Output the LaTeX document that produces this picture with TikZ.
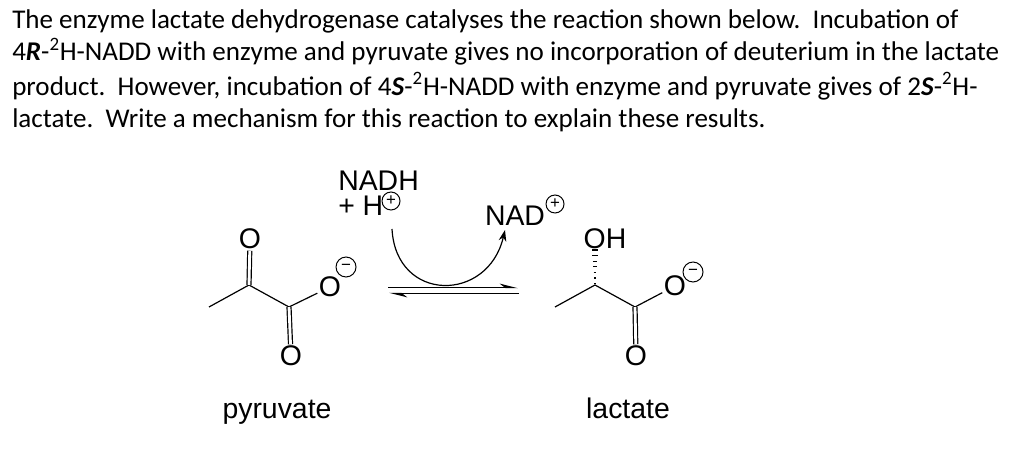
\documentclass[tikz,border=0pt]{standalone}
\usepackage{fontspec}
\usepackage{tikz}
\usetikzlibrary{arrows.meta,calc}
\setmainfont{Carlito}
\newfontfamily\chemfont{Liberation Sans}

\tikzset{
  textline/.style={anchor=base west,inner sep=0pt,font=\fontsize{19.24pt}{21pt}\selectfont},
  atom/.style={inner sep=1pt,font=\chemfont\fontsize{20.2pt}{21pt}\selectfont},
  charge/.style={circle,draw,inner sep=0pt,line width=.7pt,font=\chemfont\fontsize{12pt}{12pt}\selectfont},
  bond/.style={line width=.85pt},
  dblbond/.style={line width=.85pt,double,double distance=2pt},
}

\begin{document}
\begin{tikzpicture}[x=0.025cm,y=-0.025cm]
    \useasboundingbox (0,0) rectangle (1024,452);

    % question text
    \node[textline] (lineA) at (12,28.5) {The enzyme lactate dehydrogenase catalyses the reaction shown below.\ \ Incubation of};
    \node[textline] (lineB) at (12,61) {4\textbf{\textit{R}}-\textsuperscript{2}H-NADD with enzyme and pyruvate gives no incorporation of deuterium in the lactate};
    \node[textline] (lineC) at (12,95.5) {product.\ \ However, incubation of 4\textbf{\textit{S}}-\textsuperscript{2}H-NADD with enzyme and pyruvate gives of 2\textbf{\textit{S}}-\textsuperscript{2}H-};
    \node[textline] (lineD) at (12,127.5) {lactate.\ \ Write a mechanism for this reaction to explain these results.};

    % pyruvate
    \coordinate (pyrMe) at (209,307);
    \coordinate (pyrCa) at (249,285);
    \coordinate (pyrCb) at (289,307);
    \node[atom] (pyrOa) at (250,239) {O};
    \node[atom] (pyrOb) at (291,356) {O};
    \node[atom] (pyrOc) at (330,287) {O};
    \node[charge,minimum size=20*0.025cm] (pyrMinus) at (346,267) {−};
    \draw[bond] (pyrMe) -- (pyrCa) -- (pyrCb) -- (pyrOc);
    \draw[dblbond] (pyrCa) -- (pyrOa);
    \draw[dblbond] (pyrCb) -- (pyrOb);
    \node[atom,anchor=base] (pyrName) at (277,418) {pyruvate};

    % lactate
    \coordinate (lacMe) at (555,307);
    \coordinate (lacCa) at (595,285);
    \coordinate (lacCb) at (635,307);
    \coordinate (lacHash) at (595,250);
    \node[atom] (lacOH) at (605,239) {OH};
    \node[atom] (lacOb) at (636,356) {O};
    \node[atom] (lacOc) at (675,286) {O};
    \node[charge,minimum size=20*0.025cm] (lacMinus) at (693,272) {−};
    \draw[bond] (lacMe) -- (lacCa) -- (lacCb) -- (lacOc);
    \draw[dblbond] (lacCb) -- (lacOb);
    \foreach \t in {0.04,0.2,0.36,0.52,0.68,0.84,1}
      \draw[line width=.95pt] ($(lacCa)!\t!(lacHash)+(-.5-2.5*\t,0)$) -- ($(lacCa)!\t!(lacHash)+(.5+2.5*\t,0)$);
    \node[atom,anchor=base] (lacName) at (628,418) {lactate};

    % cofactors
    \node[atom,align=left,anchor=north west,inner sep=0pt,
      font=\chemfont\fontsize{20.2pt}{17.6pt}\selectfont] (nadh) at (338,171) {NADH\\+ H};
    \node[charge,minimum size=18*0.025cm] (protonPlus) at (391,201) {+};
    \node[atom] (nad) at (515,216) {NAD};
    \node[charge,minimum size=18*0.025cm] (nadPlus) at (555,204) {+};

    % equilibrium arrows
    \coordinate (eqTopL) at (388,287.5);
    \coordinate (eqTopR) at (518,287.5);
    \coordinate (eqLowL) at (389,293.5);
    \coordinate (eqLowR) at (519,293.5);
    \draw[line width=1pt,-{Stealth[harpoon,length=11pt,width=5.5pt]}] (eqTopL) -- (eqTopR);
    \draw[line width=1pt,-{Stealth[harpoon,length=11pt,width=5.5pt]}] (eqLowR) -- (eqLowL);

    % curved arrow
    \coordinate (curveStart) at (392,229);
    \coordinate (curveEnd) at (505,230);
    \draw[line width=.85pt,-{Stealth[length=8pt,width=5.5pt]}] (curveStart) .. controls (396,303) and (488,303) .. (curveEnd);
\end{tikzpicture}
\end{document}
